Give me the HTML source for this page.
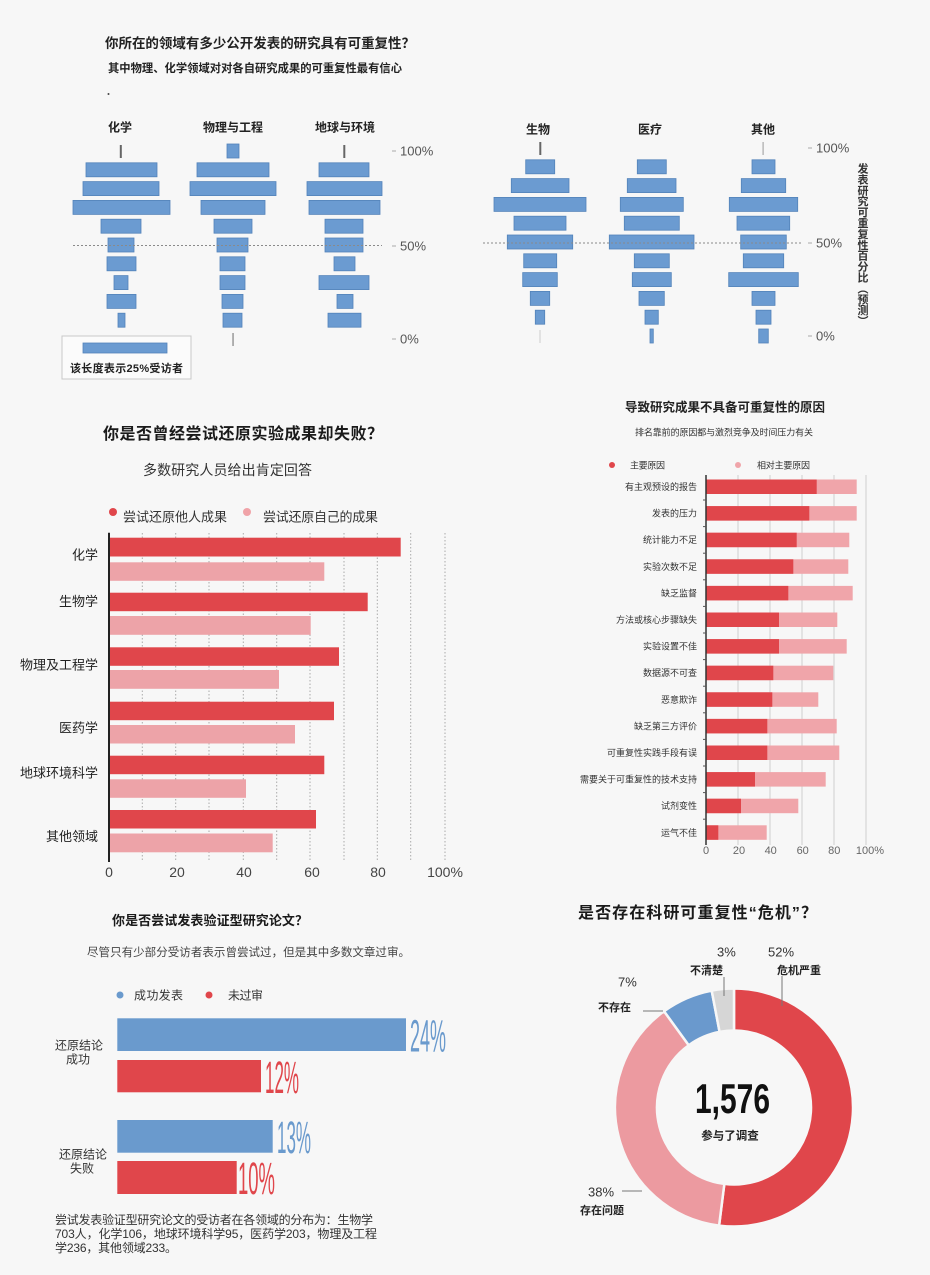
<!DOCTYPE html>
<html><head><meta charset="utf-8">
<style>
html,body{margin:0;padding:0;background:#f7f7f7;}
svg{display:block;}
text{font-family:"Liberation Sans","Noto Sans CJK SC",sans-serif;}
.b{font-weight:bold;}
</style></head>
<body>
<svg width="930" height="1275" viewBox="0 0 930 1275" xmlns="http://www.w3.org/2000/svg">
<rect x="0" y="0" width="930" height="1275" fill="#f7f7f7"/>

<!-- ========== TOP SECTION ========== -->
<text x="105" y="48" font-size="13.5" class="b" fill="#222" textLength="310">你所在的领域有多少公开发表的研究具有可重复性？</text>
<text x="108" y="72" font-size="11.3" class="b" fill="#222" textLength="294">其中物理、化学领域对对各自研究成果的可重复性最有信心</text>
<circle cx="108.5" cy="94" r="1" fill="#444"/>

<g font-size="12" class="b" fill="#222" text-anchor="middle">
<text x="120" y="131.5">化学</text>
<text x="233" y="131.5">物理与工程</text>
<text x="345" y="131.5">地球与环境</text>
<text x="538" y="133.5">生物</text>
<text x="650" y="133.5">医疗</text>
<text x="763" y="133.5">其他</text>
</g>

<g fill="#6b9bd1" stroke="#5383ba" stroke-width="0.8">
<!-- chem -->
<rect x="86" y="162.8" width="71" height="14"/>
<rect x="83" y="181.6" width="76" height="14"/>
<rect x="73" y="200.4" width="97" height="14"/>
<rect x="101" y="219.2" width="40" height="14"/>
<rect x="108" y="238" width="26" height="14"/>
<rect x="107" y="256.8" width="29" height="14"/>
<rect x="114" y="275.6" width="14" height="14"/>
<rect x="107" y="294.4" width="29" height="14"/>
<rect x="118" y="313.2" width="7" height="14"/>
<!-- phys -->
<rect x="227" y="144" width="12" height="14"/>
<rect x="197" y="162.8" width="72" height="14"/>
<rect x="190" y="181.6" width="86" height="14"/>
<rect x="201" y="200.4" width="64" height="14"/>
<rect x="214" y="219.2" width="38" height="14"/>
<rect x="217" y="238" width="31" height="14"/>
<rect x="220" y="256.8" width="25" height="14"/>
<rect x="220" y="275.6" width="25" height="14"/>
<rect x="222" y="294.4" width="21" height="14"/>
<rect x="223" y="313.2" width="19" height="14"/>
<!-- earth -->
<rect x="319" y="162.8" width="50" height="14"/>
<rect x="307" y="181.6" width="75" height="14"/>
<rect x="309" y="200.4" width="71" height="14"/>
<rect x="325" y="219.2" width="38" height="14"/>
<rect x="325" y="238" width="38" height="14"/>
<rect x="334" y="256.8" width="21" height="14"/>
<rect x="319" y="275.6" width="50" height="14"/>
<rect x="337" y="294.4" width="16" height="14"/>
<rect x="328" y="313.2" width="33" height="14"/>
<!-- bio -->
<rect x="525.7" y="159.8" width="29" height="14"/>
<rect x="511.3" y="178.6" width="57.7" height="14"/>
<rect x="494" y="197.4" width="92" height="14"/>
<rect x="514" y="216.2" width="52" height="14"/>
<rect x="507.3" y="235" width="65.4" height="14"/>
<rect x="523.7" y="253.8" width="33" height="14"/>
<rect x="522.7" y="272.6" width="34.6" height="14"/>
<rect x="530.3" y="291.4" width="19.4" height="14"/>
<rect x="535.3" y="310.2" width="9.4" height="14"/>
<!-- med -->
<rect x="637.3" y="159.8" width="29" height="14"/>
<rect x="627.3" y="178.6" width="48.7" height="14"/>
<rect x="620.3" y="197.4" width="63" height="14"/>
<rect x="624.3" y="216.2" width="55" height="14"/>
<rect x="609.3" y="235" width="84.7" height="14"/>
<rect x="634.3" y="253.8" width="35" height="14"/>
<rect x="632.3" y="272.6" width="39" height="14"/>
<rect x="639" y="291.4" width="25.3" height="14"/>
<rect x="645" y="310.2" width="13.3" height="14"/>
<rect x="650" y="329" width="3.3" height="14"/>
<!-- other -->
<rect x="752" y="159.8" width="23" height="14"/>
<rect x="741.3" y="178.6" width="44.4" height="14"/>
<rect x="729.3" y="197.4" width="68.4" height="14"/>
<rect x="737" y="216.2" width="52.7" height="14"/>
<rect x="740.7" y="235" width="45.6" height="14"/>
<rect x="743.3" y="253.8" width="40.4" height="14"/>
<rect x="728.7" y="272.6" width="69.6" height="14"/>
<rect x="752" y="291.4" width="23" height="14"/>
<rect x="756" y="310.2" width="15" height="14"/>
<rect x="758.7" y="329" width="9.6" height="14"/>
</g>
<!-- thin tick lines -->
<rect x="119.8" y="145" width="2" height="13" fill="#666"/>
<rect x="232.3" y="333" width="1.5" height="13" fill="#999"/>
<rect x="343.3" y="145" width="2" height="13" fill="#666"/>
<rect x="539.3" y="142" width="2" height="13" fill="#666"/>
<rect x="539.5" y="330" width="1" height="13" fill="#ccc"/>
<rect x="762.5" y="142" width="1.2" height="13" fill="#aaa"/>

<!-- dashed 50% lines -->
<line x1="73" y1="245.5" x2="382" y2="245.5" stroke="#8a8a8a" stroke-width="1" stroke-dasharray="2,2"/>
<line x1="483" y1="243" x2="802" y2="243" stroke="#8a8a8a" stroke-width="1" stroke-dasharray="2,2"/>

<!-- y tick labels -->
<g stroke="#aaa" stroke-width="1">
<line x1="392" y1="151" x2="396" y2="151"/>
<line x1="392" y1="246" x2="396" y2="246"/>
<line x1="392" y1="339" x2="396" y2="339"/>
<line x1="808" y1="148" x2="812" y2="148"/>
<line x1="808" y1="243" x2="812" y2="243"/>
<line x1="808" y1="336" x2="812" y2="336"/>
</g>
<g font-size="13" fill="#555">
<text x="400" y="155.5">100%</text>
<text x="400" y="250.5">50%</text>
<text x="400" y="343.5">0%</text>
<text x="816" y="152.5">100%</text>
<text x="816" y="247.5">50%</text>
<text x="816" y="340.5">0%</text>
</g>
<!-- vertical axis label -->
<g font-size="11" class="b" fill="#333" text-anchor="middle">
<text x="863" y="172.5">发</text>
<text x="863" y="183.4">表</text>
<text x="863" y="194.3">研</text>
<text x="863" y="205.2">究</text>
<text x="863" y="216.1">可</text>
<text x="863" y="227">重</text>
<text x="863" y="237.9">复</text>
<text x="863" y="248.8">性</text>
<text x="863" y="259.7">百</text>
<text x="863" y="270.6">分</text>
<text x="863" y="281.5">比</text>
<text x="863" y="292.4">︵</text>
<text x="863" y="303.3">预</text>
<text x="863" y="314.2">测</text>
<text x="863" y="325.1">︶</text>
</g>

<!-- legend box -->
<rect x="62" y="336" width="129" height="43" fill="#fbfbfb" stroke="#c8c8c8" stroke-width="1"/>
<rect x="83" y="343" width="84" height="10" fill="#6b9bd1" stroke="#5383ba" stroke-width="0.8"/>
<text x="70" y="372" font-size="11" class="b" fill="#222" textLength="113">该长度表示25%受访者</text>

<!-- ========== MIDDLE LEFT ========== -->
<text x="103" y="439" font-size="16" class="b" fill="#1a1a1a" textLength="280">你是否曾经尝试还原实验成果却失败？</text>
<text x="143" y="475" font-size="14" fill="#333" textLength="169">多数研究人员给出肯定回答</text>
<circle cx="113" cy="512" r="4" fill="#e0464b"/>
<text x="123" y="521.5" font-size="13" fill="#333" textLength="104">尝试还原他人成果</text>
<circle cx="247" cy="512" r="4" fill="#f0a3a8"/>
<text x="263" y="521.5" font-size="13" fill="#333" textLength="115">尝试还原自己的成果</text>

<g stroke="#aaa" stroke-width="1" stroke-dasharray="1.5,2">
<line x1="142.3" y1="533" x2="142.3" y2="862"/>
<line x1="175.7" y1="533" x2="175.7" y2="862"/>
<line x1="209" y1="533" x2="209" y2="862"/>
<line x1="243.3" y1="533" x2="243.3" y2="862"/>
<line x1="276.7" y1="533" x2="276.7" y2="862"/>
<line x1="310" y1="533" x2="310" y2="862"/>
<line x1="344" y1="533" x2="344" y2="862"/>
<line x1="377.3" y1="533" x2="377.3" y2="862"/>
<line x1="410.7" y1="533" x2="410.7" y2="862"/>
<line x1="445" y1="533" x2="445" y2="862"/>
</g>

<g fill="#e0464b">
<rect x="109" y="537.7" width="291.7" height="18.8"/>
<rect x="109" y="592.7" width="258.7" height="18.5"/>
<rect x="109" y="647.3" width="230" height="18.5"/>
<rect x="109" y="701.7" width="225" height="18.5"/>
<rect x="109" y="755.7" width="215.3" height="18.5"/>
<rect x="109" y="810" width="207" height="18.5"/>
</g>
<g fill="#eda3a8">
<rect x="109" y="562.3" width="215.3" height="18.5"/>
<rect x="109" y="616" width="201.7" height="18.8"/>
<rect x="109" y="670" width="170" height="18.8"/>
<rect x="109" y="725" width="186" height="18.5"/>
<rect x="109" y="779.3" width="137" height="18.5"/>
<rect x="109" y="833.5" width="163.7" height="18.8"/>
</g>
<line x1="109" y1="532.7" x2="109" y2="862" stroke="#222" stroke-width="2"/>

<g font-size="13" fill="#222" text-anchor="end">
<text x="98" y="559.5">化学</text>
<text x="98" y="606">生物学</text>
<text x="98" y="669.5">物理及工程学</text>
<text x="98" y="732.5">医药学</text>
<text x="98" y="777.5">地球环境科学</text>
<text x="98" y="841">其他领域</text>
</g>
<g font-size="14" fill="#444" text-anchor="middle">
<text x="109" y="877">0</text>
<text x="177" y="877">20</text>
<text x="244" y="877">40</text>
<text x="312" y="877">60</text>
<text x="378" y="877">80</text>
<text x="445" y="877">100%</text>
</g>

<!-- ========== MIDDLE RIGHT ========== -->
<text x="625" y="411.5" font-size="12.5" class="b" fill="#222" textLength="200">导致研究成果不具备可重复性的原因</text>
<text x="635" y="435.5" font-size="9" fill="#333" textLength="178">排名靠前的原因都与激烈竞争及时间压力有关</text>
<circle cx="612" cy="465" r="3" fill="#e0464b"/>
<text x="630" y="468.5" font-size="9" fill="#333" textLength="35">主要原因</text>
<circle cx="738" cy="465" r="3" fill="#f0a5aa"/>
<text x="757" y="468.5" font-size="9" fill="#333" textLength="53">相对主要原因</text>

<g stroke="#cfcfcf" stroke-width="1">
<line x1="738" y1="475" x2="738" y2="845"/>
<line x1="770" y1="475" x2="770" y2="845"/>
<line x1="802" y1="475" x2="802" y2="845"/>
<line x1="834" y1="475" x2="834" y2="845"/>
<line x1="866" y1="475" x2="866" y2="845"/>
</g>

<g fill="#f0a5aa">
<rect x="706" y="479.5" width="150.7" height="14.5"/>
<rect x="706" y="506.1" width="150.7" height="14.5"/>
<rect x="706" y="532.7" width="143.3" height="14.5"/>
<rect x="706" y="559.3" width="142.3" height="14.5"/>
<rect x="706" y="585.9" width="146.7" height="14.5"/>
<rect x="706" y="612.5" width="131.3" height="14.5"/>
<rect x="706" y="639.1" width="140.7" height="14.5"/>
<rect x="706" y="665.7" width="127.3" height="14.5"/>
<rect x="706" y="692.3" width="112.3" height="14.5"/>
<rect x="706" y="718.9" width="130.7" height="14.5"/>
<rect x="706" y="745.5" width="133.3" height="14.5"/>
<rect x="706" y="772.1" width="119.7" height="14.5"/>
<rect x="706" y="798.7" width="92.3" height="14.5"/>
<rect x="706" y="825.3" width="60.7" height="14.5"/>
</g>
<g fill="#e0464b">
<rect x="706" y="479.5" width="110.7" height="14.5"/>
<rect x="706" y="506.1" width="103.3" height="14.5"/>
<rect x="706" y="532.7" width="90.7" height="14.5"/>
<rect x="706" y="559.3" width="87.3" height="14.5"/>
<rect x="706" y="585.9" width="82.3" height="14.5"/>
<rect x="706" y="612.5" width="73" height="14.5"/>
<rect x="706" y="639.1" width="73" height="14.5"/>
<rect x="706" y="665.7" width="67.3" height="14.5"/>
<rect x="706" y="692.3" width="66.3" height="14.5"/>
<rect x="706" y="718.9" width="61.3" height="14.5"/>
<rect x="706" y="745.5" width="61.3" height="14.5"/>
<rect x="706" y="772.1" width="49" height="14.5"/>
<rect x="706" y="798.7" width="35" height="14.5"/>
<rect x="706" y="825.3" width="12.3" height="14.5"/>
</g>
<line x1="706" y1="475" x2="706" y2="845" stroke="#333" stroke-width="1.5"/>
<g stroke="#555" stroke-width="1">
<line x1="703" y1="500" x2="706" y2="500"/>
<line x1="703" y1="526.6" x2="706" y2="526.6"/>
<line x1="703" y1="553.2" x2="706" y2="553.2"/>
<line x1="703" y1="579.8" x2="706" y2="579.8"/>
<line x1="703" y1="606.4" x2="706" y2="606.4"/>
<line x1="703" y1="633" x2="706" y2="633"/>
<line x1="703" y1="659.6" x2="706" y2="659.6"/>
<line x1="703" y1="686.2" x2="706" y2="686.2"/>
<line x1="703" y1="712.8" x2="706" y2="712.8"/>
<line x1="703" y1="739.4" x2="706" y2="739.4"/>
<line x1="703" y1="766" x2="706" y2="766"/>
<line x1="703" y1="792.6" x2="706" y2="792.6"/>
<line x1="703" y1="819.2" x2="706" y2="819.2"/>
</g>

<g font-size="9" fill="#333" text-anchor="end">
<text x="697" y="490">有主观预设的报告</text>
<text x="697" y="516.6">发表的压力</text>
<text x="697" y="543.2">统计能力不足</text>
<text x="697" y="569.8">实验次数不足</text>
<text x="697" y="596.4">缺乏监督</text>
<text x="697" y="623">方法或核心步骤缺失</text>
<text x="697" y="649.6">实验设置不佳</text>
<text x="697" y="676.2">数据源不可查</text>
<text x="697" y="702.8">恶意欺诈</text>
<text x="697" y="729.4">缺乏第三方评价</text>
<text x="697" y="756">可重复性实践手段有误</text>
<text x="697" y="782.6">需要关于可重复性的技术支持</text>
<text x="697" y="809.2">试剂变性</text>
<text x="697" y="835.8">运气不佳</text>
</g>
<g font-size="11" fill="#666" text-anchor="middle">
<text x="706" y="854">0</text>
<text x="739" y="854">20</text>
<text x="770.7" y="854">40</text>
<text x="802.7" y="854">60</text>
<text x="834.3" y="854">80</text>
<text x="870" y="854">100%</text>
</g>

<!-- ========== BOTTOM LEFT ========== -->
<text x="112" y="925" font-size="13" class="b" fill="#1a1a1a" textLength="196">你是否尝试发表验证型研究论文？</text>
<text x="87" y="956" font-size="11.5" fill="#444" textLength="323">尽管只有少部分受访者表示曾尝试过，但是其中多数文章过审。</text>
<circle cx="120" cy="995" r="3.5" fill="#6a9acd"/>
<text x="134" y="999.5" font-size="12" fill="#333" textLength="49">成功发表</text>
<circle cx="209" cy="995" r="3.5" fill="#e0464b"/>
<text x="228" y="999.5" font-size="12" fill="#333" textLength="35">未过审</text>

<rect x="117.3" y="1018.3" width="288.7" height="32.7" fill="#6a9acd"/>
<rect x="117.3" y="1060" width="143.7" height="32.3" fill="#e0464b"/>
<rect x="117.3" y="1120" width="155.4" height="32.7" fill="#6a9acd"/>
<rect x="117.3" y="1161" width="119.4" height="33" fill="#e0464b"/>

<g font-size="45">
<text x="410" y="1051.5" fill="#6a9acd" textLength="36" lengthAdjust="spacingAndGlyphs">24%</text>
<text x="265" y="1093" fill="#e0464b" textLength="34" lengthAdjust="spacingAndGlyphs">12%</text>
<text x="277" y="1153" fill="#6a9acd" textLength="34" lengthAdjust="spacingAndGlyphs">13%</text>
<text x="238" y="1194" fill="#e0464b" textLength="37" lengthAdjust="spacingAndGlyphs">10%</text>
</g>

<g font-size="12" fill="#333" text-anchor="middle">
<text x="79" y="1049.5">还原结论</text>
<text x="78" y="1063.5">成功</text>
<text x="83" y="1158.5">还原结论</text>
<text x="82" y="1172.5">失败</text>
</g>
<g font-size="12" fill="#333">
<text x="55" y="1224" textLength="318">尝试发表验证型研究论文的受访者在各领域的分布为：生物学</text>
<text x="55" y="1238" textLength="322">703人，化学106，地球环境科学95，医药学203，物理及工程</text>
<text x="55" y="1252" textLength="122">学236，其他领域233。</text>
</g>

<!-- ========== BOTTOM RIGHT (DONUT) ========== -->
<text x="578" y="918" font-size="16" class="b" fill="#1a1a1a" textLength="239">是否存在科研可重复性“危机”？</text>

<g stroke="#f7f7f7" stroke-width="2.5" stroke-linejoin="miter">
<path d="M734,988.5 A119,119 0 1 1 719.09,1225.56 L724.35,1183.89 A77,77 0 1 0 734,1030.5 Z" fill="#e0464b"/>
<path d="M719.09,1225.56 A119,119 0 0 1 664.05,1011.23 L688.74,1045.21 A77,77 0 0 0 724.35,1183.89 Z" fill="#ec9aa0"/>
<path d="M664.05,1011.23 A119,119 0 0 1 711.70,990.61 L719.57,1031.86 A77,77 0 0 0 688.74,1045.21 Z" fill="#6a99cd"/>
<path d="M711.70,990.61 A119,119 0 0 1 734,988.5 L734,1030.5 A77,77 0 0 0 719.57,1031.86 Z" fill="#d6d6d6"/>
</g>

<text x="695" y="1113" font-size="42" class="b" fill="#111" textLength="75" lengthAdjust="spacingAndGlyphs">1,576</text>
<text x="730" y="1139.5" font-size="11.5" class="b" fill="#222" text-anchor="middle">参与了调查</text>

<g stroke="#777" stroke-width="1">
<line x1="724" y1="977" x2="724" y2="996"/>
<line x1="782" y1="976" x2="782" y2="1006"/>
<line x1="643" y1="1011" x2="663" y2="1011"/>
<line x1="622" y1="1191" x2="642" y2="1191"/>
</g>
<g font-size="13" fill="#333">
<text x="717" y="956.5">3%</text>
<text x="768" y="956.5">52%</text>
<text x="618" y="986.5">7%</text>
<text x="588" y="1196.5">38%</text>
</g>
<g font-size="11" class="b" fill="#222">
<text x="690" y="974">不清楚</text>
<text x="777" y="974">危机严重</text>
<text x="598" y="1011">不存在</text>
<text x="580" y="1214">存在问题</text>
</g>
</svg>
</body></html>
